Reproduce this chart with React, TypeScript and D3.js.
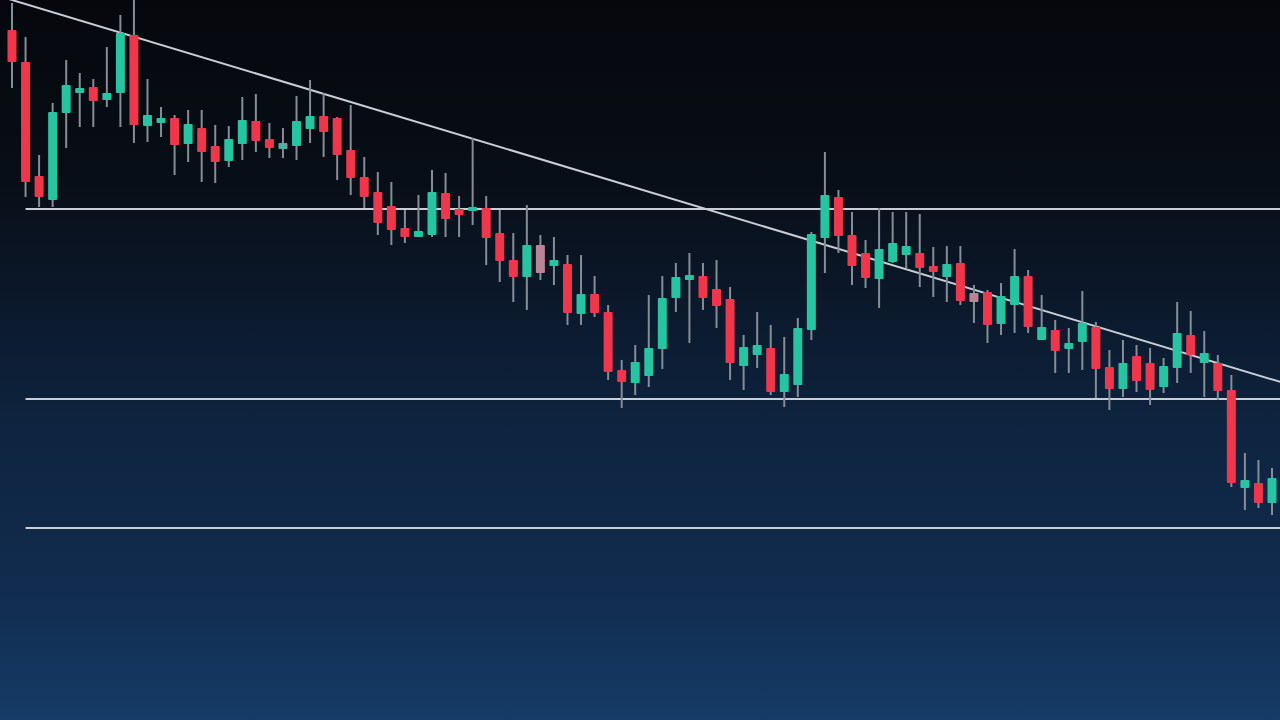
import React from "react";
import * as d3 from "d3";

// OHLC price values (open, high, low, close)
const opens = [69.0,65.8,54.4,52.0,60.7,62.7,63.3,62.0,62.7,68.5,59.4,59.7,60.2,57.6,59.2,57.4,55.9,57.6,59.9,58.1,57.1,57.4,59.1,60.4,60.2,57.0,54.3,52.8,51.4,49.2,48.3,48.5,52.7,51.1,50.9,51.2,48.7,46.0,44.3,47.5,45.4,45.6,40.6,42.6,40.8,35.0,33.7,34.4,37.1,42.2,44.0,44.4,43.1,42.1,35.4,36.5,37.2,32.8,33.5,39.0,48.2,52.3,48.5,46.7,44.1,45.8,46.5,46.7,45.4,44.3,45.7,42.7,42.8,39.6,41.5,44.4,38.0,39.0,37.1,37.8,39.3,35.3,33.1,36.4,35.7,33.3,35.2,38.5,35.7,35.7,33.0,23.2,23.7,21.7];
const highs = [71.7,68.3,56.5,61.7,66.0,64.7,64.1,67.3,70.5,72.5,64.1,61.3,60.5,61.0,61.0,59.5,59.4,62.3,62.6,59.7,59.2,62.4,64.0,62.7,60.3,61.5,56.3,54.8,53.8,51.0,52.5,55.0,54.7,52.4,58.2,52.4,51.0,48.7,51.5,48.5,48.3,46.5,46.5,44.4,41.5,36.0,37.5,42.5,44.4,45.7,46.7,45.7,46.0,43.3,38.5,40.8,39.5,38.3,40.2,48.8,56.8,53.0,50.8,48.0,51.2,50.8,50.8,50.6,47.3,47.4,47.4,43.5,43.0,43.7,47.1,45.0,42.5,40.0,39.2,42.9,39.8,37.0,38.0,37.5,37.2,36.2,41.8,40.9,38.9,36.5,34.5,26.7,26.0,25.2];
const lows = [63.2,52.3,51.3,51.3,57.2,59.3,59.3,61.3,59.3,57.7,57.8,58.3,54.5,55.8,53.8,53.7,55.3,56.0,56.8,56.2,56.2,56.0,57.7,56.3,54.0,52.5,51.2,48.5,47.5,47.7,48.3,48.3,48.3,48.3,49.5,45.5,43.8,41.8,41.0,44.0,43.5,39.5,39.5,40.3,34.0,31.2,32.5,33.3,35.1,40.8,37.7,41.0,39.2,34.0,33.0,35.2,32.5,31.3,32.3,38.0,44.7,46.7,43.5,43.2,41.2,45.7,45.2,43.3,42.3,41.8,41.5,39.7,37.7,38.5,38.7,38.7,38.0,34.7,34.7,35.0,32.2,31.0,32.3,32.8,31.5,32.7,33.7,34.7,32.3,32.0,23.3,21.0,21.2,20.5];
const closes = [65.8,53.8,52.3,60.8,63.5,63.2,61.9,62.7,68.7,59.5,60.5,60.2,57.5,59.6,56.8,55.8,58.1,60.0,57.9,57.2,57.7,59.9,60.4,58.8,56.5,54.2,52.3,49.7,49.0,48.3,48.9,52.8,50.1,50.5,51.3,48.2,45.9,44.3,47.5,44.7,46.0,40.7,42.6,40.7,34.8,33.8,35.8,37.2,42.2,44.3,44.5,42.2,41.4,35.7,37.3,37.5,32.8,34.6,39.2,48.6,52.5,48.4,45.4,44.2,47.1,47.7,47.4,45.2,44.8,45.6,41.9,41.8,39.5,42.4,44.4,39.3,39.3,36.9,37.7,39.7,35.1,33.1,35.7,33.9,33.0,35.4,38.7,36.5,36.7,32.9,23.7,24.0,21.7,24.2];
// candles drawn in faded colours
const mutedIdx = [20, 39, 71];

// horizontal support/resistance levels
const levels = [51.1, 32.1, 19.2];
const levelStart = 1;
// descending trend line anchors (candle index, price)
const trendIdx = [-1, 94];
const trendPrice = [72.41, 33.65];

const W = 1280, H = 720;
const UP = "#27c4a2", DOWN = "#f0364b";

export default function App() {
  const n = opens.length;
  const x = d3.scaleLinear().domain([0, n - 1]).range([12, 1272]);
  const y = d3.scaleLinear().domain([0, 72]).range([H, 0]);
  const bw = 9;
  const line = d3.line<[number, number]>().x(d => x(d[0])).y(d => y(d[1]));
  const trend: [number, number][] = trendIdx.map((t, i) => [t, trendPrice[i]]);

  return (
    <svg width={W} height={H} style={{ position: "fixed", left: 0, top: 0, display: "block" }}>
      <defs>
        <linearGradient id="bg" x1="0" y1="0" x2="0" y2="1">
          <stop offset="0" stopColor="#05070c" />
          <stop offset="0.25" stopColor="#080e17" />
          <stop offset="0.6" stopColor="#0e2440" />
          <stop offset="0.82" stopColor="#112c4e" />
          <stop offset="1" stopColor="#153b66" />
        </linearGradient>
      </defs>
      <rect x={0} y={0} width={W} height={H} fill="url(#bg)" />
      {levels.map((l, i) => (
        <line key={"l" + i} x1={x(levelStart)} x2={W} y1={y(l)} y2={y(l)} stroke="#c9ced6" strokeWidth={2} />
      ))}
      <path d={line(trend) || ""} stroke="#c9ced6" strokeWidth={2} fill="none" />
      {opens.map((o, i) => {
        const c = closes[i];
        const up = c >= o;
        const muted = mutedIdx.includes(i);
        let col = up ? UP : DOWN;
        if (muted) col = up ? "#5fa8a0" : "#b98594";
        const top = y(Math.max(o, c));
        const bot = y(Math.min(o, c));
        return (
          <g key={i}>
            <line x1={x(i)} x2={x(i)} y1={y(highs[i])} y2={y(lows[i])} stroke="#858d97" strokeWidth={2} />
            <rect x={x(i) - bw / 2} y={top} width={bw} height={Math.max(bot - top, 3)} fill={col} rx={1} />
          </g>
        );
      })}
    </svg>
  );
}
